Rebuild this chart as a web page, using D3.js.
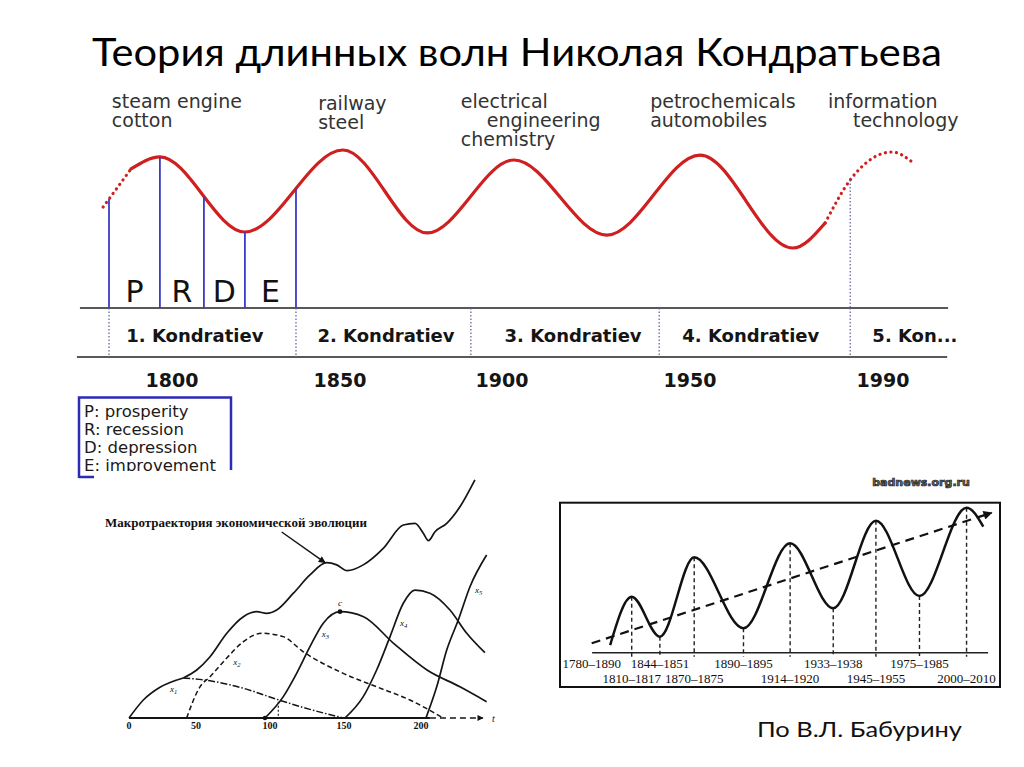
<!DOCTYPE html>
<html><head><meta charset="utf-8">
<script src="https://cdn.jsdelivr.net/npm/d3@7"></script>
<style>body{margin:0;background:#fff;overflow:hidden}</style>
</head><body>
<svg id="c" width="1024" height="767"></svg>
<script>
// ---------------- DATA ----------------
const title = "Теория длинных волн Николая Кондратьева";
const credit = "По В.Л. Бабурину";

// Top chart (years vs. relative activity 0..100)
const yearTicks = [1800, 1850, 1900, 1950, 1990];
const cycleNames = ["1. Kondratiev", "2. Kondratiev", "3. Kondratiev", "4. Kondratiev", "5. Kon..."];
const cycleLabelYears = [1806.8, 1864.2, 1918.9, 1962.6, 1996.6];
const cycleBounds = [1781.25, 1836.9, 1890.4, 1941.8, 1983.2];
const phaseYears = [1781.25, 1796.4, 1809.5, 1821.7, 1836.9];
const phaseLetters = ["P", "R", "D", "E"];
const waveStart = [[1779.5, 63.1], [1787.8, 86.9]];
const waveSolid = [[1787.8, 86.9], [1796.4, 94.4], [1821.7, 47.5], [1850.9, 98.75], [1876.9, 46.9],
                   [1903.2, 92.5], [1927.9, 45.6], [1952.1, 95.6], [1971.3, 37.5], [1978.0, 53.1]];
const waveEnd = [[1978.0, 53.1], [1983.2, 80], [1991.9, 97.5], [1996.3, 90.6]];
const techYears = [1782.1, 1843.5, 1887.3, 1939.4, 1978.6];
const techLines = [["steam engine", "cotton"], ["railway", "steel"],
                   ["electrical", "engineering", "chemistry"], ["petrochemicals", "automobiles"],
                   ["information", "technology"]];
const legendItems = ["P: prosperity", "R: recession", "D: depression", "E: improvement"];

// Bottom-left chart (t vs. level)
const leftTicks = [0, 50, 100, 150, 200];
const curveX1 = [[0, 0], [10.7, 7.5], [23.1, 12.8], [40.5, 16.7], [59.5, 15.5], [82, 12.4], [104.5, 7.8], [127, 3.6], [149.6, 0]];
const curveX2 = [[43, 0], [52.7, 13], [59.5, 17.2], [70.8, 25], [82, 31.8], [94.4, 35.3], [108.8, 33.9], [122.5, 27.6],
                 [149.5, 18.6], [171.2, 13], [192.8, 7.5], [214.4, 0]];
const curveX3 = [[96.6, 0], [109, 8.9], [118, 18.6], [127, 29.7], [136, 39.5], [147.3, 44.3], [162.7, 42.2], [182.2, 31.1],
                 [203.9, 20], [225.3, 13], [242.6, 6.8]];
const curveX4 = [[150.6, 0], [162.5, 8.9], [171.2, 20], [179.9, 33.9], [188.5, 47.8], [196.1, 53.3], [205.8, 52], [218.8, 45],
                 [229.7, 35.3], [241.5, 27.2]];
const curveX5 = [[203.2, 0], [210.2, 13], [216.7, 28.3], [224.2, 40.8], [231.8, 54.7], [242.6, 67.9]];
const macroPath = [[40.5, 16.7], [50.5, 20], [59.5, 25.5], [70.8, 35.3], [82, 42.2], [91, 44.3], [97.8, 43.6], [104.5, 45],
                   [115.8, 52], [127, 59.6], [138.3, 64.7], [145.1, 63.8], [152.1, 61.4], [162.5, 63.8], [175.5, 70.7],
                   [188.5, 80.4], [196.1, 81.1], [201.5, 77], [204.8, 73.9], [209.1, 77.6], [216.7, 81.1], [225.3, 88], [235, 99.2]];
const curveLabels = [{n: "1", t: 30.6, v: 11}, {n: "2", t: 75.2, v: 22}, {n: "3", t: 135, v: 33.9}, {n: "4", t: 186.3, v: 38.3}, {n: "5", t: 235, v: 52}];
const macroLabel = "Макротраектория экономической эволюции";
const macroArrow = [[107.9, 77.5], [137.2, 64.7]];
const peakC = [147.3, 44.3];
const crossX1X3 = [105.6, 6.8];
const leftAxisSolidEnd = 205.8, leftAxisEnd = 240.2;

// Bottom-right chart (position 0..100 vs level 0..100)
const rightWave = [[11.4, 5.1], [16.3, 37.3], [22.7, 10.7], [30.5, 63.6], [41.7, 16.3], [52.3, 72.9], [62.1, 29.6],
                   [71.8, 88], [81.7, 37.8], [92.4, 96.7], [96.2, 84]];
const rightTrend = [[7.2, 6.3], [98.1, 93.3]];
const rightPeriods = ["1780–1890", "1810–1817", "1844–1851", "1870–1875", "1890–1895", "1914–1920",
                      "1933–1938", "1945–1955", "1975–1985", "2000–2010"];
const rightAxisExtent = [7.3, 97.3];
const watermark = "badnews.org.ru";

// ---------------- DRAW ----------------
const svg = d3.select("#c");
const defs = svg.append("defs");
function marker(id, len, wid, color) {
  defs.append("marker").attr("id", id).attr("viewBox", "0 0 10 10").attr("refX", 9).attr("refY", 5)
    .attr("markerWidth", len).attr("markerHeight", wid).attr("orient", "auto").attr("markerUnits", "userSpaceOnUse")
    .append("path").attr("d", "M0,0L10,5L0,10Z").attr("fill", color);
}
marker("arrL", 9, 6, "#111");
marker("arrA", 11, 7, "#111");
marker("arrR", 12, 9, "#111");

const SANS = "'DejaVu Sans', sans-serif";
const SERIF = "'Liberation Serif', 'DejaVu Serif', serif";
const TITLEF = "Lato, 'Open Sans', sans-serif";

// Title
svg.append("text").attr("x", 92).attr("y", 66).attr("font-family", TITLEF).attr("font-size", 39)
  .attr("textLength", 850).attr("lengthAdjust", "spacingAndGlyphs").attr("fill", "#000").text(title);

// ---- Top chart ----
const xTop = d3.scaleLinear().domain(yearTicks).range([172, 340, 502, 690, 883]);
const yTop = d3.scaleLinear().domain([0, 100]).range([308, 148]);
const bandH = 49;
const topLine = d3.line().x(d => xTop(d[0])).y(d => yTop(d[1])).curve(d3.curveMonotoneX);
const RED = "#cf1f1f";

const gTop = svg.append("g");
// horizontal band lines
gTop.append("line").attr("x1", xTop(1772.6)).attr("x2", xTop(2003.5)).attr("y1", yTop(0)).attr("y2", yTop(0))
  .attr("stroke", "#222").attr("stroke-width", 1.6);
gTop.append("line").attr("x1", xTop(1771.7)).attr("x2", xTop(2003.3)).attr("y1", yTop(0) + bandH).attr("y2", yTop(0) + bandH)
  .attr("stroke", "#222").attr("stroke-width", 1.6);

// wave paths
const pStart = gTop.append("path").datum(waveStart).attr("d", d3.line().x(d => xTop(d[0])).y(d => yTop(d[1])))
  .attr("fill", "none").attr("stroke", RED).attr("stroke-width", 3.2).attr("stroke-linecap", "round").attr("stroke-dasharray", "0.1,5.5");
const pSolid = gTop.append("path").datum(waveSolid).attr("d", topLine)
  .attr("fill", "none").attr("stroke", RED).attr("stroke-width", 3.2).attr("stroke-linecap", "round");
const pEnd = gTop.append("path").datum(waveEnd).attr("d", topLine)
  .attr("fill", "none").attr("stroke", RED).attr("stroke-width", 3.2).attr("stroke-linecap", "round").attr("stroke-dasharray", "0.1,5.5");

function yAtX(path, x) {
  const node = path.node(), L = node.getTotalLength();
  let lo = 0, hi = L;
  for (let i = 0; i < 40; i++) { const m = (lo + hi) / 2; if (node.getPointAtLength(m).x < x) lo = m; else hi = m; }
  return node.getPointAtLength(lo).y;
}
function waveY(year) {
  const x = xTop(year);
  if (year <= waveStart[1][0]) return yAtX(pStart, x);
  if (year >= waveEnd[0][0]) return yAtX(pEnd, x);
  return yAtX(pSolid, x);
}
const BLUE = "#3b3bc4";
// cycle dividers in band (dotted)
gTop.selectAll(".div").data(cycleBounds).enter().append("line")
  .attr("x1", d => xTop(d)).attr("x2", d => xTop(d)).attr("y1", yTop(0)).attr("y2", yTop(0) + bandH)
  .attr("stroke", "#5a5a9a").attr("stroke-width", 1.2).attr("stroke-dasharray", "1.5,2");
// phase lines (solid blue)
gTop.selectAll(".ph").data(phaseYears).enter().append("line")
  .attr("x1", d => xTop(d)).attr("x2", d => xTop(d)).attr("y1", d => waveY(d)).attr("y2", yTop(0))
  .attr("stroke", BLUE).attr("stroke-width", 1.8);
// 5th cycle dotted line from wave
const lastB = cycleBounds[cycleBounds.length - 1];
gTop.append("line").attr("x1", xTop(lastB)).attr("x2", xTop(lastB)).attr("y1", waveY(lastB)).attr("y2", yTop(0))
  .attr("stroke", "#5a5a9a").attr("stroke-width", 1.2).attr("stroke-dasharray", "1.5,2");

// PRDE letters
gTop.selectAll(".pl").data(phaseLetters).enter().append("text")
  .attr("x", (d, i) => (xTop(phaseYears[i]) + xTop(phaseYears[i + 1])) / 2).attr("y", 302)
  .attr("text-anchor", "middle").attr("font-family", SANS).attr("font-size", 30).attr("fill", "#111").text(d => d);

// Kondratiev labels
gTop.selectAll(".kl").data(cycleNames).enter().append("text")
  .attr("x", (d, i) => xTop(cycleLabelYears[i])).attr("y", 342).attr("text-anchor", "middle")
  .attr("font-family", SANS).attr("font-weight", "bold").attr("font-size", 18).attr("fill", "#151515").text(d => d);

// Year labels
gTop.selectAll(".yl").data(yearTicks).enter().append("text")
  .attr("x", d => xTop(d)).attr("y", 387).attr("text-anchor", "middle")
  .attr("font-family", SANS).attr("font-weight", "bold").attr("font-size", 19).attr("fill", "#151515").text(d => d);

// Technology labels
const techIndent = [[0, 0], [0, 0], [0, 26, 0], [0, 0], [0, 25]];
techLines.forEach((lines, i) => {
  const t = gTop.append("text").attr("font-family", SANS).attr("font-size", 19).attr("fill", "#333");
  lines.forEach((ln, j) => {
    t.append("tspan").attr("x", xTop(techYears[i]) + techIndent[i][j]).attr("y", 108 + j * 19 + (i === 1 ? 1.5 : 0)).text(ln);
  });
});

// Legend box (cropped)
const gLeg = svg.append("g");
defs.append("clipPath").attr("id", "legClip").append("rect").attr("x", 70).attr("y", 390).attr("width", 170).attr("height", 81);
gLeg.append("path").attr("d", "M79,478 L79,397.5 L231,397.5 L231,470 M79,477 L94,477")
  .attr("fill", "none").attr("stroke", "#2b2bb5").attr("stroke-width", 2.5);
gLeg.append("g").attr("clip-path", "url(#legClip)").selectAll("text").data(legendItems).enter().append("text")
  .attr("x", 84).attr("y", (d, i) => 417 + i * 18).attr("font-family", SANS).attr("font-size", 16.5).attr("fill", "#1a1a1a").text(d => d);

// ---- Bottom-left chart ----
const xL = d3.scaleLinear().domain(leftTicks).range([129, 196, 270, 344, 421]);
const yL = d3.scaleLinear().domain([0, 100]).range([718, 478]);
const lineL = d3.line().x(d => xL(d[0])).y(d => yL(d[1])).curve(d3.curveMonotoneX);
const gL = svg.append("g").attr("fill", "none").attr("stroke", "#151515");
// axis
gL.append("line").attr("x1", xL(0)).attr("x2", xL(leftAxisSolidEnd)).attr("y1", yL(0)).attr("y2", yL(0)).attr("stroke-width", 1.8);
gL.append("line").attr("x1", xL(leftAxisSolidEnd)).attr("x2", xL(leftAxisEnd)).attr("y1", yL(0)).attr("y2", yL(0))
  .attr("stroke-width", 1.6).attr("stroke-dasharray", "6,4").attr("marker-end", "url(#arrL)");
// x1: solid rise, dash-dot fall
const peakIdx = 3;
gL.append("path").datum(curveX1.slice(0, peakIdx + 1)).attr("d", lineL).attr("stroke-width", 1.6);
gL.append("path").datum(curveX1.slice(peakIdx)).attr("d", lineL).attr("stroke-width", 1.5).attr("stroke-dasharray", "7,2,1.5,2");
gL.append("path").datum(curveX2).attr("d", lineL).attr("stroke-width", 1.5).attr("stroke-dasharray", "5,3");
[curveX3, curveX4, curveX5, macroPath].forEach(c => gL.append("path").datum(c).attr("d", lineL).attr("stroke-width", 1.7));
// vertical dotted at x1/x3 crossing
gL.append("line").attr("x1", xL(crossX1X3[0])).attr("x2", xL(crossX1X3[0])).attr("y1", yL(crossX1X3[1])).attr("y2", yL(0))
  .attr("stroke-width", 1.1).attr("stroke-dasharray", "2,2");
// annotation arrow
gL.append("line").attr("x1", xL(macroArrow[0][0])).attr("y1", yL(macroArrow[0][1])).attr("x2", xL(macroArrow[1][0])).attr("y2", yL(macroArrow[1][1]))
  .attr("stroke-width", 1.5).attr("marker-end", "url(#arrA)");
// dots
svg.append("circle").attr("cx", xL(peakC[0])).attr("cy", yL(peakC[1])).attr("r", 2.4).attr("fill", "#111");
svg.append("circle").attr("cx", xL(curveX3[0][0])).attr("cy", yL(0)).attr("r", 2.2).attr("fill", "#111");
svg.append("text").attr("x", xL(peakC[0])).attr("y", yL(peakC[1]) - 6).attr("text-anchor", "middle")
  .attr("font-family", SERIF).attr("font-style", "italic").attr("font-size", 9).attr("fill", "#111").text("c");
// curve labels
curveLabels.forEach(c => {
  const t = svg.append("text").attr("x", xL(c.t)).attr("y", yL(c.v)).attr("font-family", SERIF).attr("font-style", "italic")
    .attr("font-size", 9).attr("fill", "#111").text("x");
  t.append("tspan").attr("font-size", 6.5).attr("dy", 2).text(c.n);
});
// tick labels
svg.append("g").selectAll("text").data(leftTicks).enter().append("text")
  .attr("x", d => xL(d)).attr("y", 729).attr("text-anchor", "middle").attr("font-family", SERIF).attr("font-weight", "bold")
  .attr("font-size", 10).attr("fill", "#111").text(d => d);
svg.append("text").attr("x", xL(leftAxisEnd) + 9).attr("y", 722).attr("font-family", SERIF).attr("font-style", "italic")
  .attr("font-size", 10).attr("fill", "#111").text("t");
svg.append("text").attr("x", 105).attr("y", 527).attr("font-family", SERIF).attr("font-weight", "bold").attr("font-size", 12.5)
  .attr("textLength", 262).attr("lengthAdjust", "spacingAndGlyphs").attr("fill", "#111").text(macroLabel);

// ---- Bottom-right chart ----
const xR = d3.scaleLinear().domain([0, 100]).range([560, 1000]);
const yR = d3.scaleLinear().domain([0, 100]).range([652.7, 502.7]);
const lineR = d3.line().x(d => xR(d[0])).y(d => yR(d[1])).curve(d3.curveMonotoneX);
const gR = svg.append("g");
gR.append("rect").attr("x", xR(0)).attr("y", yR(100)).attr("width", xR(100) - xR(0)).attr("height", 687 - yR(100))
  .attr("fill", "#fff").attr("stroke", "#111").attr("stroke-width", 2);
gR.append("line").attr("x1", xR(rightAxisExtent[0])).attr("x2", xR(rightAxisExtent[1])).attr("y1", yR(0)).attr("y2", yR(0))
  .attr("stroke", "#222").attr("stroke-width", 1.6);
gR.selectAll(".vd").data(rightWave.slice(1, 10)).enter().append("line")
  .attr("x1", d => xR(d[0])).attr("x2", d => xR(d[0])).attr("y1", d => yR(d[1])).attr("y2", yR(0) + 4)
  .attr("stroke", "#222").attr("stroke-width", 1.4).attr("stroke-dasharray", "4,3");
gR.append("path").datum(rightTrend).attr("d", d3.line().x(d => xR(d[0])).y(d => yR(d[1])))
  .attr("fill", "none").attr("stroke", "#111").attr("stroke-width", 2.2).attr("stroke-dasharray", "9,6").attr("marker-end", "url(#arrR)");
gR.append("path").datum(rightWave).attr("d", lineR).attr("fill", "none").attr("stroke", "#111").attr("stroke-width", 2.5);
const labelPos = [rightTrend[0][0]].concat(rightWave.slice(1, 10).map(d => d[0]));
gR.selectAll(".pl").data(rightPeriods).enter().append("text")
  .attr("x", (d, i) => xR(labelPos[i])).attr("y", (d, i) => i % 2 === 0 ? 668 : 683).attr("text-anchor", "middle")
  .attr("font-family", SERIF).attr("font-size", 13).attr("fill", "#111").text(d => d);
svg.append("text").attr("x", 921).attr("y", 486).attr("text-anchor", "middle").attr("font-family", SANS).attr("font-weight", "bold")
  .attr("font-size", 11).attr("fill", "#666").attr("stroke", "#222").attr("stroke-width", 0.7).text(watermark);

// Credit
svg.append("text").attr("x", 757).attr("y", 737).attr("font-family", TITLEF).attr("font-size", 22)
  .attr("textLength", 205).attr("lengthAdjust", "spacingAndGlyphs").attr("fill", "#111").text(credit);
</script>
</body></html>
